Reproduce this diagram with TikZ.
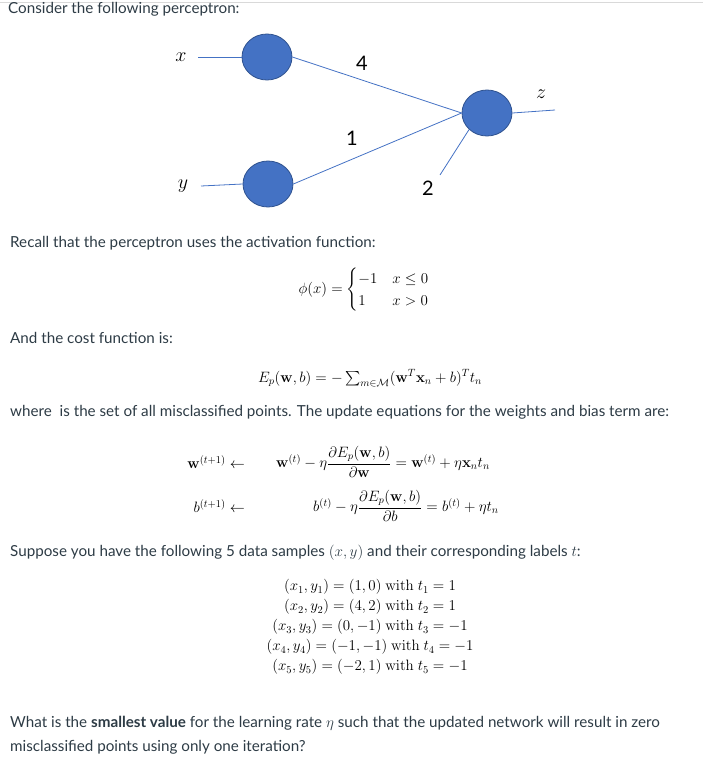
\RequirePackage{fix-cm}
\documentclass[tikz,border=0pt]{standalone}
\usepackage{amsmath}
\usepackage[no-math]{fontspec}
\setmainfont{Lato}
\usetikzlibrary{shapes.geometric}
\definecolor{nfill}{HTML}{4472C4}
\definecolor{nline}{HTML}{2F528F}
\definecolor{txt}{HTML}{2D3B45}
\newcommand{\wth}{\mathrm{\ with\ }}
\begin{document}
\begin{tikzpicture}[x=1pt,y=-1pt,
  neuron/.style={ellipse,draw=nline,fill=nfill,line width=0.8pt,minimum width=50pt,minimum height=46pt,inner sep=0pt},
  wire/.style={draw=nfill,line width=0.8pt},
  body/.style={anchor=base west,inner sep=0pt,text=txt,font=\fontsize{15.2}{18}\selectfont},
  lab/.style={inner sep=0pt,font=\fontsize{20}{22}\selectfont},
  eq/.style={inner sep=0pt,text=black,font=\fontsize{15}{19}\selectfont}]
\useasboundingbox (0,0) rectangle (703,768);
\draw[gray!30,line width=0.6pt] (0,2) -- (703,2);
\node[body] (t1) at (8,14) {Consider the following perceptron:};
% perceptron
\node[neuron] (n1) at (267,57) {};
\node[neuron] (n2) at (268,184) {};
\node[neuron] (n3) at (487,113) {};
\node[lab] (lx) at (181,57) {$x$};
\node[lab] (ly) at (183,186) {$y$};
\node[lab] (lz) at (541,94) {$z$};
\coordinate (cx) at (198,57);
\coordinate (cy) at (201,186);
\coordinate (cz) at (555,110);
\coordinate (cb) at (440,175);
\draw[wire] (cx) -- (n1.west);
\draw[wire] (cy) -- (n2.west);
\draw[wire] (n3.east) -- (cz);
\draw[wire] (n1.east) -- (n3.west);
\draw[wire] (n2.east) -- (n3.west);
\draw[wire] (n3.south west) -- (cb);
\node[lab] (w1) at (362,63) {4};
\node[lab] (w2) at (352,138) {1};
\node[lab] (w3) at (428,188) {2};
% text
\node[body] (t2) at (10,247) {Recall that the perceptron uses the activation function:};
\node[eq] (phi) at (364,290) {$\phi(x)=\begin{cases}-1 & x\le 0\\ 1 & x>0\end{cases}$};
\node[body] (t3) at (10,343) {And the cost function is:};
\node[eq] (ep) at (370,378) {$E_p(\mathbf{w},b)=-\textstyle\sum_{m\in\mathcal{M}}(\mathbf{w}^T\mathbf{x}_n+b)^Tt_n$};
\node[body] (t4) at (10,416) {where\ \ is the set of all misclassified points. The update equations for the weights and bias term are:};
\node[eq,anchor=east] (l1) at (245,462) {$\mathbf{w}^{(t+1)}\leftarrow$};
\node[eq,anchor=east] (l2) at (245,506) {$b^{(t+1)}\leftarrow$};
\node[eq,anchor=west] (r1) at (276,462) {$\mathbf{w}^{(t)}-\eta\dfrac{\partial E_p(\mathbf{w},b)}{\partial\mathbf{w}}=\mathbf{w}^{(t)}+\eta\mathbf{x}_nt_n$};
\node[eq,anchor=west] (r2) at (313,506) {$b^{(t)}-\eta\dfrac{\partial E_p(\mathbf{w},b)}{\partial b}=b^{(t)}+\eta t_n$};
\node[body] (t5) at (10,556) {Suppose you have the following 5 data samples $(x,y)$ and their corresponding labels $t$:};
\node[eq,align=center] (data) at (370,627) {$(x_1,y_1)=(1,0)\wth t_1=1$\\[1pt]
$(x_2,y_2)=(4,2)\wth t_2=1$\\[1pt]
$(x_3,y_3)=(0,-1)\wth t_3=-1$\\[1pt]
$(x_4,y_4)=(-1,-1)\wth t_4=-1$\\[1pt]
$(x_5,y_5)=(-2,1)\wth t_5=-1$};
\node[body] (t6) at (10,727) {What is the \textbf{smallest value} for the learning rate $\eta$ such that the updated network will result in zero};
\node[body] (t7) at (10,751) {misclassified points using only one iteration?};
\end{tikzpicture}
\end{document}
